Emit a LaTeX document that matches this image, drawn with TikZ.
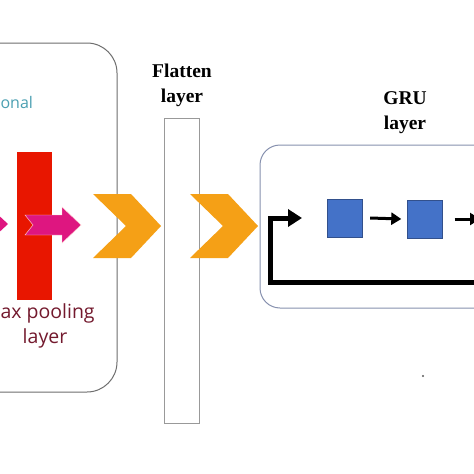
\documentclass[tikz,border=0pt]{standalone}
\usepackage{fontspec}
\setmainfont{Liberation Serif}
\newfontfamily\uifont{Open Sans}
\usetikzlibrary{arrows.meta,positioning}
\definecolor{poolred}{RGB}{232,22,0}
\definecolor{pinkarrow}{RGB}{222,22,128}
\definecolor{chevorange}{RGB}{245,160,22}
\definecolor{grublue}{RGB}{68,114,200}
\definecolor{gruedge}{RGB}{50,80,140}
\definecolor{boxgray}{RGB}{110,110,110}
\definecolor{gruframe}{RGB}{135,145,175}
\definecolor{convteal}{RGB}{75,160,178}
\definecolor{poolmaroon}{RGB}{115,25,45}
\begin{document}
\begin{tikzpicture}[x=1pt, y=-1pt,
					bar/.style={draw, inner sep=0pt, minimum width=35pt},
					cell/.style={draw=gruedge, fill=grublue, inner sep=0pt, minimum width=35pt, minimum height=38pt},
					title/.style={font=\fontsize{19.5}{25}\selectfont\bfseries, align=center},
					uitext/.style={font=\uifont\fontsize{19.5}{22}\selectfont},
					step arrow/.style={line width=3pt, -{Triangle[length=10pt, width=12pt]}},
					loop line/.style={line width=5pt, -{Triangle[length=14pt, width=17pt]}}]
	\useasboundingbox (0,0) rectangle (474,474);
	\clip (0,0) rectangle (474,474);
	\fill[white] (0,0) rectangle (474,474);

	% convolution / pooling block
	\draw[boxgray, line width=1pt, rounded corners=30pt] (-60,43) rectangle (117,392);
	\node[uitext, text=convteal, font=\uifont\fontsize{16}{18}\selectfont, anchor=west] (conv) at (-3,102) {onal};
	\node[bar, draw=none, fill=poolred, minimum height=148pt] (pool) at (34,226) {};
	\fill[pinkarrow] (-6,211) -- (8,224) -- (-6,237) -- cycle;
	\fill[pinkarrow, draw=pink!70, line width=0.4pt] (25,215) -- (62,215) -- (62,207) -- (81,225) -- (62,243) -- (62,235) -- (25,235) -- (33,225) -- cycle;
	\node[uitext, text=poolmaroon, anchor=west] (poolname) at (-3,313) {ax pooling};
	\node[uitext, text=poolmaroon] (poollayer) at (45,338) {layer};

	% flatten layer
	\node[bar, draw=gray!80, fill=white, line width=0.8pt, minimum height=305pt] (flat) at (181.5,270.5) {};
	\node[title] (flatname) at (182,85) {Flatten\\layer};

	% chevrons
	\foreach \x in {93,190}
		\fill[chevorange, shift={(\x,0)}] (0,194) -- (38,194) -- (68,226) -- (38,258) -- (0,258) -- (33,226) -- cycle;

	% GRU layer
	\draw[gruframe, line width=1pt, rounded corners=20pt] (260,145) rectangle (520,308);
	\node[title] (gruname) at (405,113) {GRU\\layer};
	\node[cell] (g1) at (344.5,218) {};
	\node[cell] (g2) at (425,219) {};
	\coordinate (gout) at (480,219);
	\draw[step arrow] ([xshift=8pt]g1.east) -- ([xshift=-6pt]g2.west);
	\draw[step arrow] ([xshift=12pt]g2.east) -- (gout);

	% recurrent loop
	\coordinate (loopr) at (480,282);
	\coordinate (loopc) at (270,282);
	\coordinate (loopt) at (270,218);
	\coordinate (loopin) at (302,218);
	\draw[loop line] (loopr) -- (loopc) -- (loopt) -- (loopin);

	\fill[gray!70!black] (423,376) circle (1.2pt);
\end{tikzpicture}
\end{document}
